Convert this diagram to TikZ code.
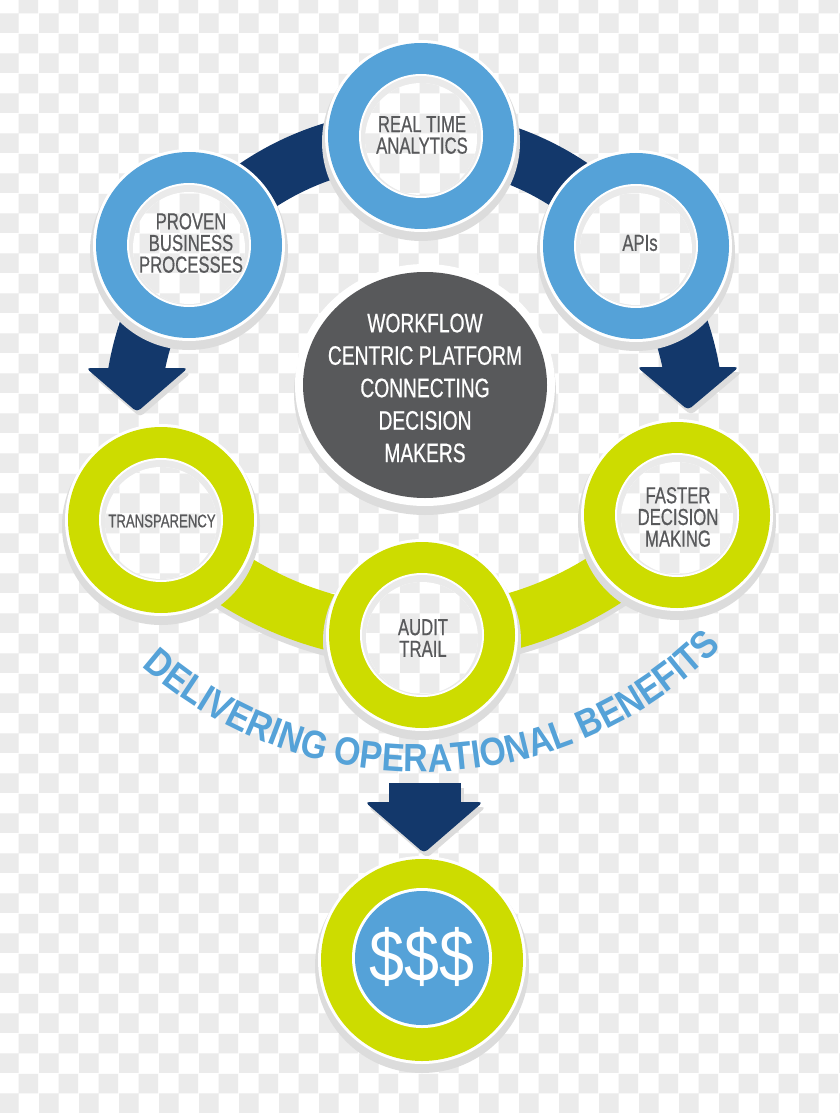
\documentclass[tikz,border=0pt]{standalone}
\usepackage{fontspec}
\setmainfont{Liberation Sans}[FakeStretch=0.72, FakeBold=0.6]
\newfontfamily\widefont{Liberation Sans}[FakeStretch=0.86]
\usetikzlibrary{patterns,decorations.text}

\definecolor{ringblue}{HTML}{55A2D8}
\definecolor{navy}{HTML}{13386B}
\definecolor{lime}{HTML}{CDDC00}
\definecolor{hubgray}{HTML}{58595B}
\definecolor{dropgray}{HTML}{DCDCDC}
\definecolor{check}{HTML}{EBEBEB}

% checker ground, 20px squares
\pgfdeclarepatternformonly{checks}{\pgfpointorigin}{\pgfpoint{10mm}{10mm}}{\pgfpoint{10mm}{10mm}}{%
  \pgfpathrectangle{\pgfpointorigin}{\pgfpoint{5mm}{5mm}}%
  \pgfpathrectangle{\pgfpoint{5mm}{5mm}}{\pgfpoint{5mm}{5mm}}%
  \pgfusepath{fill}}

% ring with white rim, drop shadow and open middle
\newcommand{\drawring}[3]{%
  \fill[dropgray] (#1,#2+6) circle[radius=99];
  \fill[white] (#1,#2) circle[radius=96];
  \fill[#3] (#1,#2) circle[radius=93];
  \fill[white] (#1,#2) circle[radius=62];
  \fill[dropgray!60] (#1,#2) circle[radius=60];
  \fill[white, postaction={pattern=checks, pattern color=check}] (#1,#2+3) circle[radius=56];}

% arrow head pointing down: base centre x, base y, half width, height
\newcommand{\downhead}[4]{%
  \fill[dropgray, rounded corners=3pt] (#1-#3+3,#2+5) -- (#1+#3+3,#2+5) -- (#1+3,#2+#4+5) -- cycle;
  \fill[navy, rounded corners=3pt] (#1-#3,#2) -- (#1+#3,#2) -- (#1,#2+#4) -- cycle;}

\begin{document}
\begin{tikzpicture}[x=0.25mm, y=-0.25mm,
    ringlabel/.style={text=hubgray, align=center, font=\fontsize{16.5}{15.4}\selectfont},
    band/.style={line width=14mm}]
  \useasboundingbox (0,0) rectangle (840,1113);
  \fill[white, postaction={pattern=checks, pattern color=check}] (0,0) rectangle (840,1113);

  % top band and its two arrows
  \draw[band, navy] (134.7,380.8) arc[start angle=-172, end angle=-8, radius=282];
  \downhead{137}{368}{51}{44}
  \downhead{688}{367}{51}{43}

  % blue rings
  \drawring{189}{245}{ringblue}
  \drawring{421}{136}{ringblue}
  \drawring{636}{246}{ringblue}
  \node[ringlabel] (real) at (422,135) {REAL TIME\\ANALYTICS};
  \node[ringlabel] (proven) at (191,243) {PROVEN\\BUSINESS\\PROCESSES};
  \node[ringlabel] (apis) at (640,243) {APIs};

  % hub
  \fill[dropgray] (425,393) ellipse[x radius=131, y radius=122];
  \fill[white] (425,385) ellipse[x radius=130, y radius=121];
  \fill[hubgray] (425,385) ellipse[x radius=122, y radius=113];
  \node[text=white, align=center, font=\fontsize{19}{23.1}\selectfont] (hub) at (425,388)
    {WORKFLOW\\CENTRIC PLATFORM\\CONNECTING\\DECISION\\MAKERS};

  % green band and rings
  \draw[band, dropgray, yshift=-1.5mm] (161.9,519.5) arc[start angle=-222, end angle=-318.7, radius=346];
  \draw[band, lime] (161.9,519.5) arc[start angle=-222, end angle=-318.7, radius=346];
  \drawring{161}{520}{lime}
  \drawring{422}{635}{lime}
  \drawring{677}{515}{lime}
  \node[ringlabel, font=\fontsize{13}{13}\selectfont] (transp) at (162,521) {TRANSPARENCY};
  \node[ringlabel] (audit) at (423,638) {AUDIT\\TRAIL};
  \node[ringlabel] (faster) at (678,517) {FASTER\\DECISION\\MAKING};

  % curved caption
  \path[decorate, decoration={text along path, text align=center, text color=ringblue,
      text={|\widefont\bfseries\fontsize{28}{28}\selectfont|DELIVERING OPERATIONAL BENEFITS}}]
    (97.7,621.3) arc[start angle=-220, end angle=-324, radius=422];

  % last arrow and the money ring
  \fill[dropgray] (392,788) rectangle (464,807);
  \fill[navy] (389,783) rectangle (461,804);
  \downhead{424}{802}{59}{51}
  \fill[dropgray] (422,966) circle[radius=107];
  \fill[white] (422,960) circle[radius=104];
  \fill[lime] (422,960) circle[radius=101];
  \fill[white] (422,958) circle[radius=70];
  \fill[ringblue] (422,958) circle[radius=67];
  \node[text=white, font=\widefont\fontsize{52}{52}\selectfont] (money) at (422,957) {\$\$\$};
\end{tikzpicture}
\end{document}
